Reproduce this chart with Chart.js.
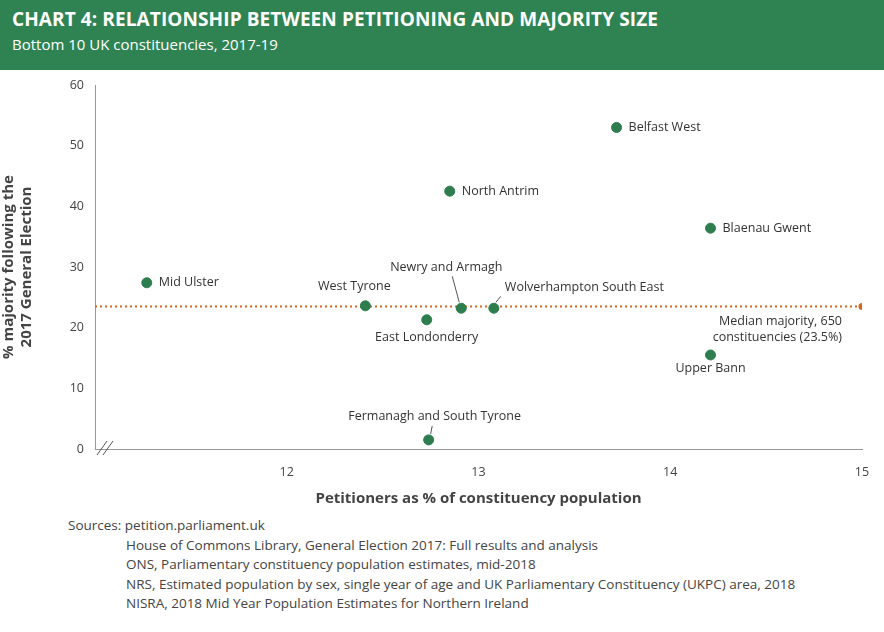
<!DOCTYPE html>
<html><head><meta charset="utf-8">
<script src="https://cdn.jsdelivr.net/npm/chart.js@4"></script>
<style>
  body { margin:0; width:884px; height:632px; background:#fff; font-family:"Open Sans",sans-serif; overflow:hidden; }
  .hdr { background:#2f8353; height:70px; color:#fff; padding:0 0 0 12px; box-sizing:border-box; }
  .hdr h1 { margin:0; padding-top:6px; font-size:19px; font-weight:700; letter-spacing:0.1px; }
  .hdr p { margin:2px 0 0; font-size:15px; }
  .wrap { position:absolute; top:72px; left:0; width:884px; height:440px; }
  .src { position:absolute; top:516px; left:68px; font-size:13.5px; color:#444; line-height:19.5px; }
  .src div.i { padding-left:58px; }
</style></head>
<body>
<div class="hdr">
  <h1>CHART 4: RELATIONSHIP BETWEEN PETITIONING AND MAJORITY SIZE</h1>
  <p>Bottom 10 UK constituencies, 2017-19</p>
</div>
<div class="wrap"><canvas id="c" width="884" height="440"></canvas></div>
<div class="src">
  <div>Sources: petition.parliament.uk</div>
  <div class="i">House of Commons Library, General Election 2017: Full results and analysis</div>
  <div class="i">ONS, Parliamentary constituency population estimates, mid-2018</div>
  <div class="i">NRS, Estimated population by sex, single year of age and UK Parliamentary Constituency (UKPC) area, 2018</div>
  <div class="i">NISRA, 2018 Mid Year Population Estimates for Northern Ireland</div>
</div>
<script>
const constituencies = ["Mid Ulster","West Tyrone","Newry and Armagh","Wolverhampton South East","East Londonderry","North Antrim","Belfast West","Blaenau Gwent","Upper Bann","Fermanagh and South Tyrone"];
const petitioners = [11.27, 12.41, 12.91, 13.08, 12.73, 12.85, 13.72, 14.21, 14.21, 12.74];
const majority    = [27.4, 23.6, 23.2, 23.2, 21.3, 42.5, 53.0, 36.4, 15.5, 1.5];
const medianMajority = 23.5;
const xTicks = [12, 13, 14, 15];

// label placement: [dx, dy, align, leader]
const labelPos = [
  [12, 0, "left", false],
  [-11, -19, "center", false],
  [-15, -41, "center", true],
  [11, -21, "left", true],
  [0, 18, "center", false],
  [12, 0, "left", false],
  [12, 0, "left", false],
  [12, 0, "left", false],
  [0, 13, "center", false],
  [6, -23, "center", true]
];

const green = "#2e7d4f";
const orange = "#d9661f";

const labelsPlugin = {
  id: "labels",
  afterDatasetsDraw(chart) {
    const ctx = chart.ctx;
    const meta = chart.getDatasetMeta(0);
    ctx.save();
    ctx.font = "12.5px 'Open Sans', sans-serif";
    ctx.fillStyle = "#333";
    ctx.textBaseline = "middle";
    meta.data.forEach((pt, i) => {
      const [dx, dy, align, leader] = labelPos[i];
      ctx.textAlign = align;
      ctx.fillText(constituencies[i], pt.x + dx, pt.y + dy);
      if (leader) {
        ctx.strokeStyle = "#555"; ctx.lineWidth = 1;
        ctx.beginPath();
        const ex = pt.x + (align === "left" ? dx - 4 : dx * 0.6);
        ctx.moveTo(pt.x + (dx > 0 ? 2 : -2), pt.y - 6);
        ctx.lineTo(ex, pt.y + dy + 9);
        ctx.stroke();
      }
    });
    const xs = chart.scales.x, ys = chart.scales.y;
    ctx.textAlign = "right";
    ctx.fillText("Median majority, 650", xs.getPixelForValue(15) - 20, ys.getPixelForValue(medianMajority) + 15);
    ctx.fillText("constituencies (23.5%)", xs.getPixelForValue(15) - 20, ys.getPixelForValue(medianMajority) + 31);
    // axis break marks
    const by = ys.bottom;
    ctx.strokeStyle = "#555";
    ctx.beginPath();
    ctx.moveTo(xs.left + 2, by + 6); ctx.lineTo(xs.left + 12, by - 8);
    ctx.moveTo(xs.left + 8, by + 6); ctx.lineTo(xs.left + 18, by - 8);
    ctx.stroke();
    ctx.restore();
  }
};

new Chart(document.getElementById("c"), {
  type: "scatter",
  data: {
    datasets: [
      {
        data: petitioners.map((x, i) => ({ x, y: majority[i] })),
        backgroundColor: green, borderColor: green, pointRadius: 5, pointHoverRadius: 5
      },
      {
        type: "line",
        data: [{ x: 11, y: medianMajority }, { x: 15, y: medianMajority }],
        borderColor: orange, borderWidth: 2, borderDash: [2, 3],
        pointRadius: [0, 3.5], pointBackgroundColor: orange, pointBorderWidth: 0
      }
    ]
  },
  options: {
    responsive: false, animation: false,
    layout: { padding: { top: 13, right: 22, left: 0, bottom: 0 } },
    plugins: { legend: { display: false }, tooltip: { enabled: false } },
    scales: {
      x: {
        type: "linear", min: 11, max: 15,
        afterBuildTicks: s => { s.ticks = xTicks.map(v => ({ value: v })); },
        grid: { display: false, drawTicks: true },
        border: { color: "#999" },
        ticks: { color: "#444", font: { size: 12.5, family: "Open Sans" }, padding: 8 },
        title: { display: true, text: "Petitioners as % of constituency population", color: "#444",
                 font: { size: 15, weight: "bold", family: "Open Sans" }, padding: { top: 6 } },
        afterFit: s => { s.height = 63; }
      },
      y: {
        min: 0, max: 60,
        ticks: { stepSize: 10, color: "#444", font: { size: 12.5, family: "Open Sans" } },
        grid: { display: false },
        border: { color: "#999" },
        title: { display: true, text: ["% majority following the", "2017 General Election"], color: "#444",
                 font: { size: 15, weight: "bold", family: "Open Sans" }, padding: 0 },
        afterFit: s => { s.width = 95; }
      }
    }
  },
  plugins: [labelsPlugin]
});
</script>
</body></html>
